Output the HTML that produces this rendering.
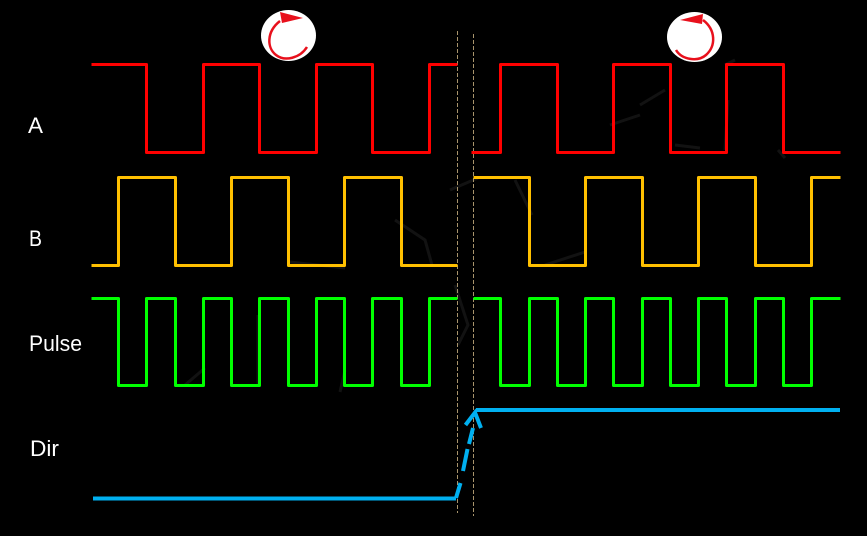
<!DOCTYPE html>
<html>
<head>
<meta charset="utf-8">
<style>
html,body{margin:0;padding:0;background:#000;width:867px;height:536px;overflow:hidden}
svg{display:block}
text{font-family:"Liberation Sans",sans-serif;font-size:22px;fill:#fff}
.w{fill:none;stroke-width:3;stroke-linejoin:round}
</style>
</head>
<body>
<svg width="867" height="536" viewBox="0 0 867 536" xmlns="http://www.w3.org/2000/svg">
<rect width="867" height="536" fill="#000"/>
<g fill="none" stroke="#121212" stroke-width="3">
<path d="M450 190 L478 178 M515 180 L532 215 M395 220 L425 240 L432 265 M290 262 L345 268 M545 265 L585 252"/>
<path d="M455 285 L468 325 L458 345 M345 370 L340 392 M185 385 L205 368 M258 315 L258 385"/>
<path d="M640 105 L665 90 M610 125 L640 115 M675 145 L700 148 M725 65 L735 60 M728 100 L725 150 M778 150 L785 158"/>
</g>
<ellipse cx="288.5" cy="35.5" rx="27.5" ry="25.5" fill="#fff"/>
<path d="M307 47 C300 58 285 62 276 55 C267 48 266 32 280 21" fill="none" stroke="#e8101c" stroke-width="2.5"/>
<polygon points="280,12 303,18 282,23" fill="#e8101c"/>
<ellipse cx="694.5" cy="37" rx="27.5" ry="25" fill="#fff"/>
<path d="M676 50 C682 60 698 62 706 55 C716 46 716 30 703 20" fill="none" stroke="#e8101c" stroke-width="2.5"/>
<polygon points="680,20 703,14 702,24" fill="#e8101c"/>
<g stroke="#a8946c" stroke-width="1" stroke-dasharray="4 2" fill="none">
<path d="M457.5 31 V513"/>
<path d="M473.5 34 V516"/>
</g>
<g transform="translate(0.5,0)">
<path class="w" stroke="#ff0000" d="M91 64.5 H146 V152.5 H203 V64.5 H259 V152.5 H316 V64.5 H372 V152.5 H429 V64.5 H457"/>
<path class="w" stroke="#ff0000" d="M471 152.5 H500 V64.5 H557 V152.5 H613 V64.5 H670 V152.5 H726 V64.5 H783 V152.5 H840"/>
<path class="w" stroke="#ffc000" d="M91 265.5 H118 V177.5 H175 V265.5 H231 V177.5 H288 V265.5 H344 V177.5 H401 V265.5 H457"/>
<path class="w" stroke="#ffc000" d="M473 177.5 H529 V265.5 H585 V177.5 H642 V265.5 H698 V177.5 H755 V265.5 H811 V177.5 H840"/>
<path class="w" stroke="#00ff00" d="M91 298.5 H118 V385.5 H146 V298.5 H175 V385.5 H203 V298.5 H231 V385.5 H259 V298.5 H288 V385.5 H316 V298.5 H344 V385.5 H372 V298.5 H401 V385.5 H429 V298.5 H457"/>
<path class="w" stroke="#00ff00" d="M473 298.5 H500 V385.5 H529 V298.5 H557 V385.5 H585 V298.5 H613 V385.5 H642 V298.5 H670 V385.5 H698 V298.5 H726 V385.5 H755 V298.5 H783 V385.5 H811 V298.5 H840"/>
</g>
<path d="M93 498.5 H456" fill="none" stroke="#00b0f0" stroke-width="4"/>
<path d="M476 410 H840" fill="none" stroke="#00b0f0" stroke-width="4"/>
<g fill="none" stroke="#00b0f0" stroke-width="4">
<path d="M456 498 L460.5 483"/>
<path d="M463 471 L467.5 449"/>
<path d="M469 444 L473 428"/>
<path d="M465.5 425 L475 412.5 L481 428"/>
</g>
<text x="28" y="133" textLength="15" lengthAdjust="spacingAndGlyphs">A</text>
<text x="29" y="246" textLength="13" lengthAdjust="spacingAndGlyphs">B</text>
<text x="29" y="351" textLength="53" lengthAdjust="spacingAndGlyphs">Pulse</text>
<text x="30" y="456" textLength="29" lengthAdjust="spacingAndGlyphs">Dir</text>
</svg>
</body>
</html>
